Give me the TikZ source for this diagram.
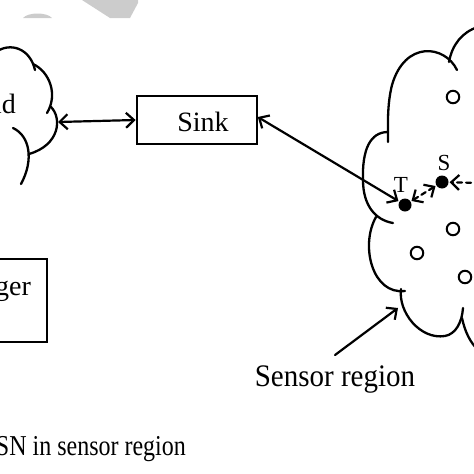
\documentclass[tikz,border=0pt]{standalone}
\usepackage{fontspec}
\setmainfont{Liberation Serif}
\usetikzlibrary{arrows.meta}
\begin{document}
\begin{tikzpicture}[x=1pt,y=-1pt,line width=2.2pt,line cap=round,
  >={Straight Barb[length=8pt,width=15pt]},
  big/.style={font=\fontsize{28}{32}\selectfont,inner sep=0pt},
  small/.style={font=\fontsize{23}{26}\selectfont,inner sep=0pt},
  capt/.style={font=\fontsize{24}{28}\selectfont,inner sep=0pt},
  boxn/.style={draw,line width=2.2pt,inner sep=0pt},
  dot/.style={circle,fill,inner sep=0pt,minimum size=13pt},
  hollow/.style={circle,draw,line width=2pt,inner sep=0pt,minimum size=12.5pt},
  cloudline/.style={line width=2.3pt},
  dashlink/.style={dash pattern=on 5pt off 4pt}]
\useasboundingbox (0,0) rectangle (474,474);
% grey remnants
\fill[gray!40] (23,18) .. controls (28,12) and (47,12) .. (52,18) -- cycle;
\fill[gray!40] (82,0) -- (138,0) -- (138,3) -- (130,18) -- (110,18) -- cycle;
% left cloud
\draw[cloudline] (-4,52) .. controls (10,42) and (30,48) .. (35,70);
\draw[cloudline] (33,64) .. controls (50,72) and (58,95) .. (47,113);
\draw[cloudline] (51,107) .. controls (62,118) and (60,145) .. (29,154);
\draw[cloudline] (13,128) .. controls (30,136) and (34,160) .. (21,184);
\node[big,anchor=base east] (ldtxt) at (17,113) {ld};
\coordinate (cloudL) at (58,122);
% manager box
\node[boxn,minimum width=110pt,minimum height=83pt] (mgr) at (-8,300.5) {};
\node[big,anchor=base east] (gertxt) at (32,295) {ger};
% sink
\node[boxn,minimum width=120pt,minimum height=48pt] (sink) at (196.7,120) {};
\node[big] (sinktxt) at (203,122) {Sink};
% right cloud
\draw[cloudline] (449,62) .. controls (452,45) and (462,32) .. (478,27);
\draw[cloudline] (457,70) .. controls (445,45) and (405,40) .. (392,85) .. controls (387,105) and (388,125) .. (388,142);
\draw[cloudline] (388,132) .. controls (370,132) and (362,150) .. (363,180) .. controls (363,205) and (375,220) .. (393,223);
\draw[cloudline] (376,217) .. controls (360,245) and (372,295) .. (405,291);
\draw[cloudline] (401,289) .. controls (398,312) and (420,340) .. (445,336) .. controls (456,334) and (462,322) .. (463,308);
\draw[cloudline] (462,318) .. controls (465,332) and (470,342) .. (478,350);
% sensors
\node[hollow] (c1) at (453,97) {};
\node[hollow] (c2) at (453,229) {};
\node[hollow] (c3) at (417,253) {};
\node[hollow] (c4) at (465,277) {};
\node[dot] (T) at (405,205) {};
\node[dot] (S) at (442,182) {};
\node[small] (Tl) at (401,185) {T};
\node[small] (Sl) at (444,163) {S};
\coordinate (Sin) at (480,183);
% connectors
\draw[<->] (cloudL) -- (sink.west);
\draw[<->] ([yshift=3pt]sink.east) -- (T);
\draw[<->,dashlink] (T) -- (S);
\draw[->,dashlink] (Sin) -- (S);
% sensor region label
\node[big,font=\fontsize{29}{32}\selectfont] (sr) at (335,380) {\scalebox{1}[1.08]{Sensor region}};
\coordinate (srtail) at (335,355);
\coordinate (srtip) at (398,308);
\draw[->] (srtail) -- (srtip);
% caption
\node[capt,anchor=base east] (cap) at (187,455) {\scalebox{1}[1.2]{SN in sensor region}};
\end{tikzpicture}
\end{document}
